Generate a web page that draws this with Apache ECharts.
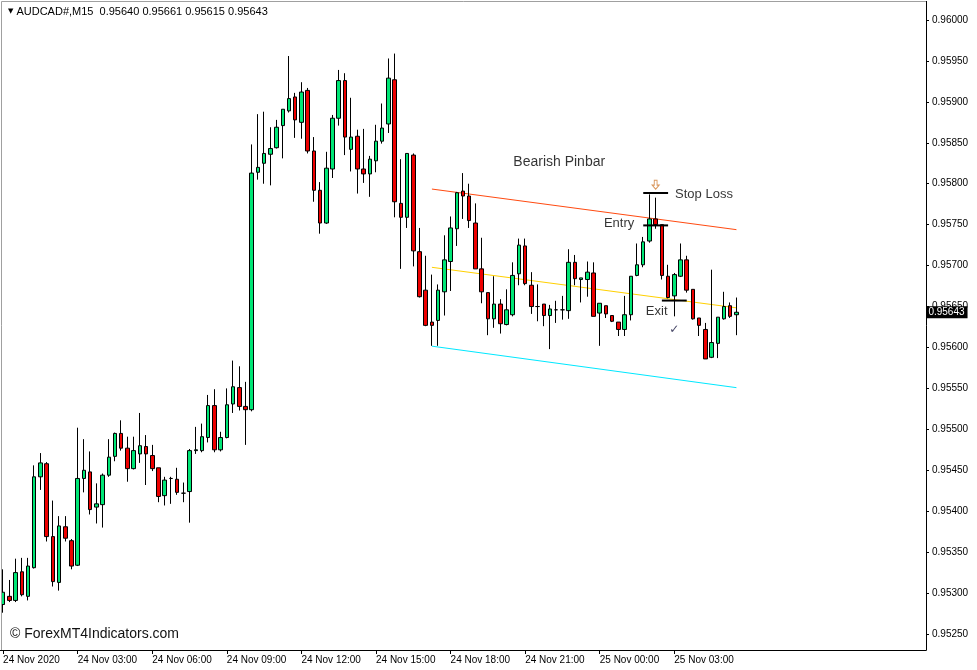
<!DOCTYPE html>
<html>
<head>
<meta charset="utf-8">
<script src="https://cdn.jsdelivr.net/npm/echarts@6/dist/echarts.min.js"></script>
<style>
html,body{margin:0;padding:0;background:#fff;}
#chart{width:977px;height:670px;}
</style>
</head>
<body>
<div id="chart"></div>
<script>
// ---- Data (AUDCAD#, M15) ----
const symbolName = 'AUDCAD#,M15';
const opens = [0.95286,0.95296,0.95291,0.95326,0.95296,0.95331,0.95442,0.95458,0.95369,0.95313,
0.95381,0.95364,0.95334,0.95440,0.95448,0.95405,0.95408,0.95444,0.95467,0.95495,
0.95477,0.95452,0.95470,0.95479,0.95468,0.95453,0.95419,0.95440,0.95439,0.95422,
0.95424,0.95474,0.95474,0.95490,0.95529,0.95475,0.95490,0.95531,0.95551,0.95528,
0.95524,0.95814,0.95825,0.95836,0.95844,0.95871,0.95889,0.95906,0.95875,0.95914,
0.95840,0.95792,0.95752,0.95818,0.95880,0.95926,0.95842,0.95858,0.95818,0.95812,
0.95828,0.95852,0.95873,0.95927,0.95776,0.95759,0.95835,0.95717,0.95670,0.95631,
0.95633,0.95668,0.95705,0.95745,0.95791,0.95785,0.95752,0.95696,0.95667,0.95635,
0.95653,0.95628,0.95640,0.95690,0.95724,0.95676,0.95650,0.95653,0.95639,0.95646,
0.95646,0.95645,0.95704,0.95683,0.95683,0.95691,0.95642,0.95651,0.95639,0.95631,
0.95622,0.95640,0.95688,0.95701,0.95730,0.95757,0.95750,0.95687,0.95663,0.95687,
0.95707,0.95671,0.95636,0.95622,0.95588,0.95605,0.95635,0.95651,0.95640];
const highs = [0.95329,0.95316,0.95342,0.95343,0.95343,0.95456,0.95471,0.95460,0.95413,0.95394,
0.95394,0.95366,0.95502,0.95488,0.95473,0.95434,0.95446,0.95488,0.95496,0.95511,
0.95491,0.95491,0.95520,0.95493,0.95481,0.95453,0.95442,0.95442,0.95453,0.95435,
0.95476,0.95503,0.95507,0.95542,0.95549,0.95497,0.95550,0.95584,0.95577,0.95558,
0.95848,0.95885,0.95888,0.95869,0.95878,0.95891,0.95956,0.95911,0.95924,0.95917,
0.95857,0.95802,0.95839,0.95884,0.95939,0.95935,0.95905,0.95866,0.95867,0.95834,
0.95872,0.95898,0.95953,0.95959,0.95830,0.95837,0.95837,0.95746,0.95712,0.95689,
0.95677,0.95737,0.95760,0.95790,0.95813,0.95800,0.95776,0.95734,0.95667,0.95687,
0.95659,0.95671,0.95704,0.95733,0.95733,0.95692,0.95677,0.95653,0.95652,0.95657,
0.95663,0.95720,0.95713,0.95685,0.95705,0.95704,0.95654,0.95651,0.95639,0.95631,
0.95663,0.95687,0.95727,0.95735,0.95787,0.95783,0.95750,0.95701,0.95691,0.95727,
0.95712,0.95671,0.95636,0.95630,0.95695,0.95637,0.95668,0.95655,0.95661];
const lows = [0.95276,0.95289,0.95289,0.95296,0.95291,0.95330,0.95426,0.95363,0.95308,0.95303,
0.95363,0.95329,0.95333,0.95423,0.95396,0.95385,0.95380,0.95442,0.95461,0.95474,
0.95436,0.95451,0.95459,0.95432,0.95449,0.95411,0.95407,0.95409,0.95420,0.95411,
0.95386,0.95470,0.95472,0.95484,0.95472,0.95473,0.95489,0.95520,0.95523,0.95481,
0.95522,0.95805,0.95800,0.95798,0.95843,0.95831,0.95887,0.95856,0.95855,0.95837,
0.95778,0.95739,0.95751,0.95807,0.95871,0.95835,0.95815,0.95788,0.95801,0.95784,
0.95814,0.95849,0.95862,0.95759,0.95696,0.95746,0.95699,0.95661,0.95626,0.95602,
0.95602,0.95639,0.95669,0.95724,0.95757,0.95746,0.95696,0.95654,0.95615,0.95624,
0.95617,0.95627,0.95638,0.95676,0.95676,0.95641,0.95632,0.95626,0.95598,0.95630,
0.95634,0.95635,0.95676,0.95655,0.95662,0.95638,0.95602,0.95636,0.95631,0.95614,
0.95614,0.95633,0.95687,0.95698,0.95728,0.95745,0.95683,0.95660,0.95638,0.95686,
0.95667,0.95634,0.95614,0.95586,0.95587,0.95587,0.95634,0.95636,0.95615];
const closes = [0.95301,0.95291,0.95325,0.95298,0.95333,0.95442,0.95459,0.95369,0.95314,0.95382,
0.95367,0.95333,0.95440,0.95450,0.95402,0.95409,0.95444,0.95466,0.95495,0.95477,
0.95452,0.95474,0.95480,0.95470,0.95452,0.95418,0.95438,0.95440,0.95423,0.95422,
0.95474,0.95475,0.95491,0.95529,0.95475,0.95490,0.95530,0.95552,0.95528,0.95524,
0.95813,0.95820,0.95837,0.95843,0.95869,0.95891,0.95904,0.95878,0.95912,0.95840,
0.95792,0.95752,0.95819,0.95880,0.95926,0.95857,0.95857,0.95818,0.95812,0.95830,
0.95852,0.95868,0.95929,0.95778,0.95759,0.95837,0.95718,0.95662,0.95627,0.95627,
0.95670,0.95707,0.95746,0.95789,0.95785,0.95755,0.95696,0.95668,0.95635,0.95653,
0.95629,0.95646,0.95688,0.95725,0.95678,0.95650,0.95650,0.95639,0.95647,0.95646,
0.95646,0.95704,0.95684,0.95685,0.95692,0.95638,0.95654,0.95641,0.95632,0.95622,
0.95640,0.95687,0.95701,0.95729,0.95757,0.95750,0.95688,0.95661,0.95689,0.95707,
0.95670,0.95635,0.95627,0.95586,0.95606,0.95637,0.95650,0.95638,0.95643];

// Regression channel (bar index, price)
const channelBars = [69, 118];
const upperLine = [0.957935, 0.957439];
const middleLine = [0.956979, 0.956484];
const lowerLine = [0.956016, 0.955509];

// Trade annotations
const stopLossLevel = 0.957887, stopLossBars = [103, 107];
const entryLevel = 0.957491, entryBars = [103, 107];
const exitLevel = 0.956573, exitBars = [106, 110];

// Axis
const yTicks = {min: 0.9525, max: 0.9600, step: 0.0005};
const totalSlots = 149;          // bars + empty right shift
const labelEvery = 12;           // 3 hours of M15 bars
const monthName = 'Nov';

// ---- Build ----
const nBars = opens.length;
const categories = [];
for (let i = 0; i < totalSlots; i++) {
  const t = new Date(Date.UTC(2020, 10, 24, 0, 0) + i * 15 * 60000);
  const dd = t.getUTCDate(), hh = String(t.getUTCHours()).padStart(2,'0'), mm = String(t.getUTCMinutes()).padStart(2,'0');
  categories.push(dd + ' ' + monthName + ' ' + hh + ':' + mm);
}
const candleData = opens.map((o, i) => [o, closes[i], lows[i], highs[i]]);
const last = nBars - 1;
const fmt = v => v.toFixed(5);
const FONT = '"Liberation Sans", Arial, sans-serif';

const showIdx = (idx) => idx % labelEvery === 0 && idx < nBars;

const chart = echarts.init(document.getElementById('chart'), null, {renderer: 'canvas'});

const seg = (bars, level) => [[bars[0], level], [bars[1], level]];
const arrowPath = 'path://M3,0 L7,0 L7,6 L10,6 L5,11 L0,6 L3,6 Z';

const option = {
  animation: false,
  backgroundColor: '#ffffff',
  title: {
    left: 3, top: 1,
    text: '{a|▼} ' + symbolName + '  ' + fmt(opens[last]) + ' ' + fmt(highs[last]) + ' ' + fmt(lows[last]) + ' ' + fmt(closes[last]),
    textStyle: {
      fontFamily: FONT, fontSize: 11, fontWeight: 'normal', color: '#000',
      rich: {a: {fontSize: 7, color: '#000', fontFamily: 'DejaVu Sans'}}
    }
  },
  grid: {left: 0, right: 51, top: 20, bottom: 36, containLabel: false},
  xAxis: {
    type: 'category',
    data: categories,
    boundaryGap: true,
    offset: 16,
    axisLine: {show: true, lineStyle: {color: '#000', width: 1}},
    axisTick: {show: true, alignWithLabel: true, length: 4, interval: (idx) => showIdx(idx), lineStyle: {color: '#000'}},
    axisLabel: {
      interval: (idx) => showIdx(idx),
      formatter: (val, idx) => idx === 0 ? '24 Nov 2020' : val,
      align: 'left', fontSize: 10, color: '#000', margin: 5, fontFamily: FONT
    },
    splitLine: {show: false}
  },
  yAxis: {
    type: 'value',
    position: 'right',
    min: yTicks.min, max: yTicks.max, interval: yTicks.step,
    axisLine: {show: false},
    axisTick: {show: true, length: 3, lineStyle: {color: '#000'}},
    axisLabel: {formatter: v => fmt(v), fontSize: 10, color: '#000', margin: 6, fontFamily: FONT},
    splitLine: {show: false}
  },
  graphic: [
    {type: 'line', shape: {x1: 1.5, y1: 1.5, x2: 926, y2: 1.5}, style: {stroke: '#a0a0a0', lineWidth: 1}, z: 10},
    {type: 'line', shape: {x1: 1.5, y1: 1.5, x2: 1.5, y2: 650}, style: {stroke: '#a0a0a0', lineWidth: 1}, z: 10},
    {type: 'line', shape: {x1: 926.5, y1: 1, x2: 926.5, y2: 650.5}, style: {stroke: '#000', lineWidth: 1}, z: 10},
    {type: 'text', left: 10, top: 627, style: {text: '© ForexMT4Indicators.com', fontSize: 14, fill: '#111', fontFamily: FONT}, z: 10}
  ],
  series: [
    {
      type: 'candlestick',
      name: 'price',
      data: candleData,
      barWidth: 4,
      clip: false,
      itemStyle: {
        color: '#00e676', color0: '#ee0000',
        borderColor: '#000', borderColor0: '#000', borderColorDoji: '#000',
        borderWidth: 1
      },
      z: 3
    },
    {type: 'line', name: 'upper', data: channelBars.map((b, i) => [b, upperLine[i]]), symbol: 'none', lineStyle: {color: '#ff4a10', width: 1}, z: 2, silent: true},
    {type: 'line', name: 'middle', data: channelBars.map((b, i) => [b, middleLine[i]]), symbol: 'none', lineStyle: {color: '#ffd000', width: 1}, z: 2, silent: true},
    {type: 'line', name: 'lower', data: channelBars.map((b, i) => [b, lowerLine[i]]), symbol: 'none', lineStyle: {color: '#00e8ff', width: 1}, z: 2, silent: true},
    {type: 'line', name: 'stop', data: seg(stopLossBars, stopLossLevel), symbol: 'none', lineStyle: {color: '#000', width: 2}, z: 5, silent: true},
    {type: 'line', name: 'entry', data: seg(entryBars, entryLevel), symbol: 'none', lineStyle: {color: '#000', width: 2}, z: 5, silent: true},
    {type: 'line', name: 'exit', data: seg(exitBars, exitLevel), symbol: 'none', lineStyle: {color: '#000', width: 2}, z: 5, silent: true},
    {
      type: 'scatter', name: 'arrow', symbol: arrowPath, symbolSize: [7, 9], z: 6, silent: true,
      itemStyle: {color: '#fff', borderColor: '#d07a30', borderWidth: 1},
      data: [[105, 0.957988]]
    },
    {
      type: 'scatter', name: 'bid', symbol: 'rect', symbolSize: 1, z: 20, silent: true, clip: false,
      itemStyle: {color: 'rgba(0,0,0,0)', opacity: 1},
      label: {
        show: true, position: 'right', distance: 3, opacity: 1,
        formatter: () => fmt(closes[last]),
        backgroundColor: '#000000', color: '#ffffff', fontSize: 10, fontFamily: FONT,
        padding: [1, 3, 1, 2]
      },
      data: [[totalSlots - 1, closes[last]]]
    },
    {
      type: 'scatter', name: 'notes', symbolSize: 0, z: 6, silent: true,
      label: {show: true, fontFamily: FONT, color: '#000', fontSize: 13},
      data: [
        {value: [89, 0.958268], label: {formatter: 'Bearish Pinbar', position: 'inside', offset: [3, 0], fontSize: 14}},
        {value: [107, 0.957866], label: {formatter: 'Stop Loss', position: 'right', distance: 7}},
        {value: [103, 0.957512], label: {formatter: 'Entry', position: 'left', distance: 9}},
        {value: [105, 0.956439], label: {formatter: 'Exit', position: 'inside', offset: [1, 0]}},
        {value: [108, 0.956220], label: {formatter: '✓', position: 'inside', fontSize: 12, color: '#10103a', fontFamily: 'DejaVu Sans'}}
      ]
    }
  ]
};
chart.setOption(option);
</script>
</body>
</html>
